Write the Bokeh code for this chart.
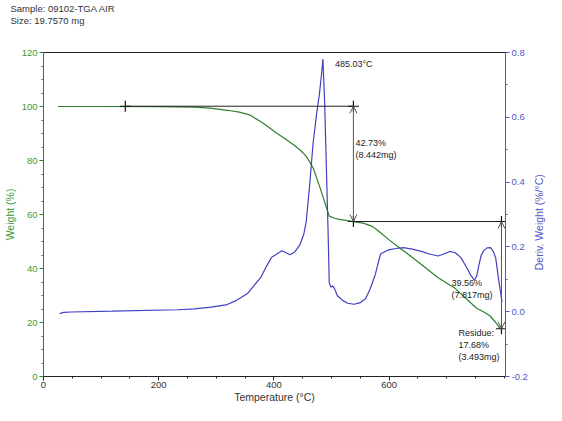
import math
from bokeh.plotting import figure
from bokeh.layouts import column, row
from bokeh.models import Range1d, LinearAxis, FixedTicker, Label, Arrow, OpenHead, PrintfTickFormatter
from bokeh.embed import file_html
from bokeh.resources import INLINE

# ---- data ----
header_lines = ["Sample: 09102-TGA AIR", "Size:  19.7570 mg"]
x_label = "Temperature (°C)"
left_label = "Weight (%)"
right_label = "Deriv. Weight (%/°C)"

temp_w = [25, 100, 200, 262, 290, 319, 340, 359, 382, 405, 420, 434, 446, 456, 468, 479,
          491, 496, 505, 514, 525, 536, 555, 571, 582, 600, 616, 636, 656, 685, 713, 742,
          752, 765, 775, 785, 793]
weight = [100.0, 100.0, 99.95, 99.8, 99.4, 98.6, 97.9, 96.8, 93.7, 90.1, 88.0, 85.8, 83.8,
          81.6, 77.3, 70.6, 62.7, 59.4, 58.6, 58.2, 57.8, 57.4, 56.8, 55.6, 53.8, 50.6, 48.0,
          44.8, 41.5, 36.6, 32.9, 27.2, 25.3, 23.8, 22.5, 20.0, 17.7]

temp_d = [28, 35, 48, 119, 233, 262, 291, 319, 335, 348, 354, 365, 377, 387, 396, 405, 414,
          421, 428, 436, 445, 452, 456, 462, 468, 474, 479, 483, 485, 488, 491, 494, 496, 499,
          502, 505, 510, 519, 528, 539, 549, 559, 567, 576, 585, 599, 612, 625, 640, 656, 670,
          685, 695, 705, 715, 725, 735, 742, 748, 752, 756, 760, 765, 770, 776, 781, 785, 790,
          796]
deriv = [-0.006, -0.002, -0.001, 0.0015, 0.006, 0.009, 0.014, 0.022, 0.035, 0.049, 0.056,
         0.08, 0.105, 0.14, 0.168, 0.178, 0.188, 0.182, 0.176, 0.184, 0.206, 0.24, 0.277, 0.39,
         0.52, 0.61, 0.672, 0.74, 0.78, 0.65, 0.45, 0.25, 0.09, 0.075, 0.08, 0.072, 0.05, 0.035,
         0.026, 0.023, 0.027, 0.04, 0.07, 0.115, 0.178, 0.191, 0.195, 0.198, 0.193, 0.186,
         0.178, 0.172, 0.178, 0.186, 0.182, 0.166, 0.135, 0.112, 0.097, 0.11, 0.145, 0.175,
         0.19, 0.197, 0.198, 0.185, 0.166, 0.1, 0.03]

x_ticks = [0, 200, 400, 600]
w_ticks = [0, 20, 40, 60, 80, 100, 120]
d_ticks = [-0.2, 0.0, 0.2, 0.4, 0.6, 0.8]

peak_T, peak_D = 485.03, 0.78
peak_text = "485.03°C"
step_start_T = 142
step1_T = 538
step2_T = 795
w_initial = 100.1
w_mid = 57.4
w_residue = 17.68
loss1_text = ["42.73%", "(8.442mg)"]
loss2_text = ["39.56%", "(7.817mg)"]
residue_text = ["Residue:", "17.68%", "(3.493mg)"]

GREEN = "#2f7f2f"
GREEN_TXT = "#3a9a3a"
BLUE = "#4040c0"
BLUE_AX = "#5555c4"
FONT = "Liberation Sans"

TOTAL_W, TOTAL_H = 546, 405
HEADER_H = 27
SIDE_W = 16
MAIN_W = TOTAL_W - SIDE_W
MAIN_H = TOTAL_H - HEADER_H

# ---- header strip ----
hdr = figure(width=TOTAL_W, height=HEADER_H, output_backend="svg", toolbar_location=None,
             x_range=Range1d(0, TOTAL_W), y_range=Range1d(0, HEADER_H),
             x_axis_type=None, y_axis_type=None, min_border=0)
hdr.outline_line_color = None
for i, t in enumerate(header_lines):
    hdr.add_layout(Label(x=10, y=HEADER_H - 8 - 12 * i, text=t, text_font=FONT,
                         text_font_size="9.5px", text_color="#333333",
                         text_align="left", text_baseline="middle"))

# ---- main plot ----
p = figure(width=MAIN_W, height=MAIN_H, output_backend="svg", toolbar_location=None,
           x_range=Range1d(0, 802), y_range=Range1d(0, 120),
           min_border_left=43, min_border_right=23, min_border_top=25, min_border_bottom=29)
p.extra_y_ranges = {"deriv": Range1d(-0.2, 0.8)}
p.xgrid.visible = False
p.ygrid.visible = False
p.outline_line_color = "#222222"
p.outline_line_width = 1

def style_axis(ax, color, label_color):
    ax.axis_line_color = color
    ax.major_tick_line_color = color
    ax.minor_tick_line_color = color
    ax.major_tick_in = 0
    ax.major_tick_out = 4
    ax.minor_tick_in = 0
    ax.minor_tick_out = 2
    ax.major_label_text_color = label_color
    ax.major_label_text_font = FONT
    ax.major_label_text_font_size = "9.5px"
    ax.major_label_standoff = 2
    ax.axis_label_text_color = label_color
    ax.axis_label_text_font = FONT
    ax.axis_label_text_font_size = "10.5px"
    ax.axis_label_text_font_style = "normal"
    ax.axis_label_standoff = 3

xa = p.xaxis[0]
xa.ticker = FixedTicker(ticks=x_ticks, minor_ticks=list(range(0, 801, 50)))
xa.axis_label = x_label
style_axis(xa, "#222222", "#333333")
xa.major_label_standoff = 1
xa.axis_label_standoff = 0

ya = p.yaxis[0]
ya.ticker = FixedTicker(ticks=w_ticks, minor_ticks=list(range(0, 121, 5)))
ya.axis_label = left_label
style_axis(ya, GREEN, GREEN_TXT)

ra = LinearAxis(y_range_name="deriv",
                ticker=FixedTicker(ticks=d_ticks, minor_ticks=[round(-0.2 + 0.1 * i, 1) for i in range(11)]),
                formatter=PrintfTickFormatter(format="%.1f"))
style_axis(ra, BLUE_AX, BLUE_AX)
p.add_layout(ra, "right")

p.line(temp_w, weight, line_color=GREEN, line_width=1.2)
p.line(temp_d, deriv, line_color=BLUE, line_width=1.2, y_range_name="deriv")

# step annotation lines
p.line([step_start_T, step1_T], [w_initial, w_initial], line_color="#222222", line_width=1)
p.line([step1_T, step2_T], [w_mid, w_mid], line_color="#222222", line_width=1)
for ys, ye in [(w_initial, w_mid), (w_mid, w_residue)]:
    xx = step1_T if ys == w_initial else step2_T
    p.add_layout(Arrow(x_start=xx, y_start=ys, x_end=xx, y_end=ye,
                       line_color="#555555", line_width=1,
                       start=OpenHead(size=7, line_color="#555555", line_width=1),
                       end=OpenHead(size=7, line_color="#555555", line_width=1)))
p.scatter([step_start_T, step1_T, step1_T, step2_T, step2_T],
          [w_initial, w_initial, w_mid, w_mid, w_residue],
          marker="cross", size=11, line_color="#111111", line_width=1.2)

def add_text(x, y, text, x_off=0, y_off=0, rng="default", size="9px", color="#222222"):
    p.add_layout(Label(x=x, y=y, text=text, x_offset=x_off, y_offset=y_off, y_range_name=rng,
                       text_font=FONT, text_font_size=size, text_color=color,
                       text_align="left", text_baseline="middle"))

add_text(peak_T, peak_D, peak_text, x_off=12, y_off=-5, rng="deriv")
for i, t in enumerate(loss1_text):
    add_text(step1_T, 86.4, t, x_off=2, y_off=-12 * i)
for i, t in enumerate(loss2_text):
    add_text(step2_T, 34.6, t, x_off=-50, y_off=-12 * i)
for i, t in enumerate(residue_text):
    add_text(step2_T, 16.0, t, x_off=-43, y_off=-12 * i)

# ---- right-hand axis title strip (reads bottom to top) ----
side = figure(width=SIDE_W, height=MAIN_H, output_backend="svg", toolbar_location=None,
              x_range=Range1d(0, SIDE_W), y_range=Range1d(0, MAIN_H),
              x_axis_type=None, y_axis_type=None, min_border=0)
side.outline_line_color = None
side.add_layout(Label(x=SIDE_W / 2, y=MAIN_H - (225 - HEADER_H), text=right_label, angle=math.pi / 2,
                      text_font=FONT, text_font_size="10.5px", text_color=BLUE_AX,
                      text_align="center", text_baseline="middle"))

layout = column(hdr, row(p, side))
open("out.html", "w").write(file_html(layout, INLINE))
